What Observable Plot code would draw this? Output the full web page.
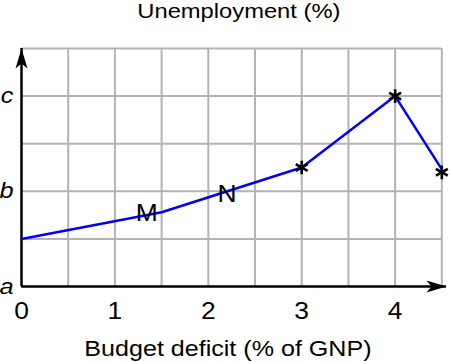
<!DOCTYPE html>
<html>
<head>
<meta charset="utf-8">
<script src="https://cdn.jsdelivr.net/npm/d3@7"></script>
<script src="https://cdn.jsdelivr.net/npm/@observablehq/plot@0.6"></script>
<style>
  html, body { margin: 0; padding: 0; background: #fff; overflow: hidden; }
  body { width: 450px; height: 362px; font-family: "Liberation Sans", Arial, sans-serif; color: #000; }
  .title { box-sizing: border-box; width: 450px; height: 30px; padding-left: 28px; text-align: center; font-size: 21px; line-height: 22px; }
  .xlabel { box-sizing: border-box; width: 450px; height: 32px; padding-left: 6px; padding-top: 6px; text-align: center; font-size: 22px; line-height: 25px; }
  .title span, .xlabel span { display: inline-block; transform-origin: center; }
  .title span { transform: scaleX(1.13); }
  .xlabel span { transform: scaleX(1.14); }
  #chart { height: 300px; }
</style>
</head>
<body>
<div class="title"><span>Unemployment (%)</span></div>
<div id="chart"></div>
<div class="xlabel"><span>Budget deficit (% of GNP)</span></div>
<script>
// ---- data ----
const xDomain = [0, 4.55];
const yDomain = [0, 2.5];
const xGrid = [0.5, 1, 1.5, 2, 2.5, 3, 3.5, 4, 4.5];
const yGrid = [0.5, 1, 1.5, 2, 2.5];
const xTicks = [0, 1, 2, 3, 4];
const yTicks = [0, 1, 2];
const yTickLabels = ["a", "b", "c"];
const lineX = [0, 1.5, 3, 4, 4.5];
const lineY = [0.5, 0.78, 1.25, 2.0, 1.23];
const starX = [3, 4, 4.5];
const starY = [1.25, 2.0, 1.2];
const labelText = ["M", "N"];
const labelX = [1.34, 2.2];
const labelY = [0.77, 0.97];

// ---- arrowhead symbols (tip at origin) ----
const arrowUp = {draw(ctx) { ctx.moveTo(0, 0); ctx.lineTo(6, 20); ctx.lineTo(0, 15); ctx.lineTo(-6, 20); ctx.closePath(); }};
const arrowRight = {draw(ctx) { ctx.moveTo(0, 0); ctx.lineTo(-20, -6); ctx.lineTo(-15, 0); ctx.lineTo(-20, 6); ctx.closePath(); }};

const gridColor = "#b3b3b3";

const chart = Plot.plot({
  width: 450,
  height: 300,
  marginLeft: 21,
  marginRight: 4,
  marginTop: 18,
  marginBottom: 44,
  style: {fontFamily: "'Liberation Sans', Arial, sans-serif", background: "white", color: "black", overflow: "visible"},
  x: {domain: xDomain, axis: null},
  y: {domain: yDomain, axis: null},
  marks: [
    Plot.ruleX(xGrid, {x: d => d, stroke: gridColor, strokeWidth: 2}),
    Plot.ruleY(yGrid, {y: d => d, x1: xDomain[0], x2: xGrid[xGrid.length - 1], stroke: gridColor, strokeWidth: 2}),
    Plot.ruleY([yDomain[0]], {stroke: "black", strokeWidth: 2.5}),
    Plot.ruleX([xDomain[0]], {stroke: "black", strokeWidth: 2.5}),
    Plot.dot([yDomain[1]], {x: () => xDomain[0], y: d => d, symbol: arrowUp, fill: "black", stroke: "none", r: 5}),
    Plot.dot([xDomain[1]], {x: d => d, y: () => yDomain[0], symbol: arrowRight, fill: "black", stroke: "none", r: 5}),
    Plot.line(lineX, {x: d => d, y: (d, i) => lineY[i], stroke: "#0000ff", strokeWidth: 2.5, strokeLinejoin: "round"}),
    Plot.dot(starX, {x: d => d, y: (d, i) => starY[i], symbol: "asterisk", r: 6.5, stroke: "black", strokeWidth: 2.6}),
    Plot.text(labelText, {x: (d, i) => labelX[i], y: (d, i) => labelY[i], text: d => d, fontSize: 23, fill: "black"}),
    Plot.text(xTicks, {x: d => d, text: d => String(d), frameAnchor: "bottom", lineAnchor: "top", dy: 16, fontSize: 23, fill: "black"}),
    Plot.text(yTicks, {y: d => d, text: (d, i) => yTickLabels[i], frameAnchor: "left", textAnchor: "end", dx: -8, fontSize: 22, fontStyle: "italic", fill: "black"})
  ]
});
document.getElementById("chart").appendChild(chart);

// widen glyphs horizontally like the reference
chart.querySelectorAll("text").forEach(t => {
  const b = t.getBBox();
  const anchor = getComputedStyle(t).textAnchor;
  const p = anchor === "end" ? b.x + b.width : anchor === "middle" ? b.x + b.width / 2 : b.x;
  const prev = t.getAttribute("transform") || "";
  t.setAttribute("transform", `${prev} translate(${p},0) scale(1.15,1) translate(${-p},0)`);
});
</script>
</body>
</html>
